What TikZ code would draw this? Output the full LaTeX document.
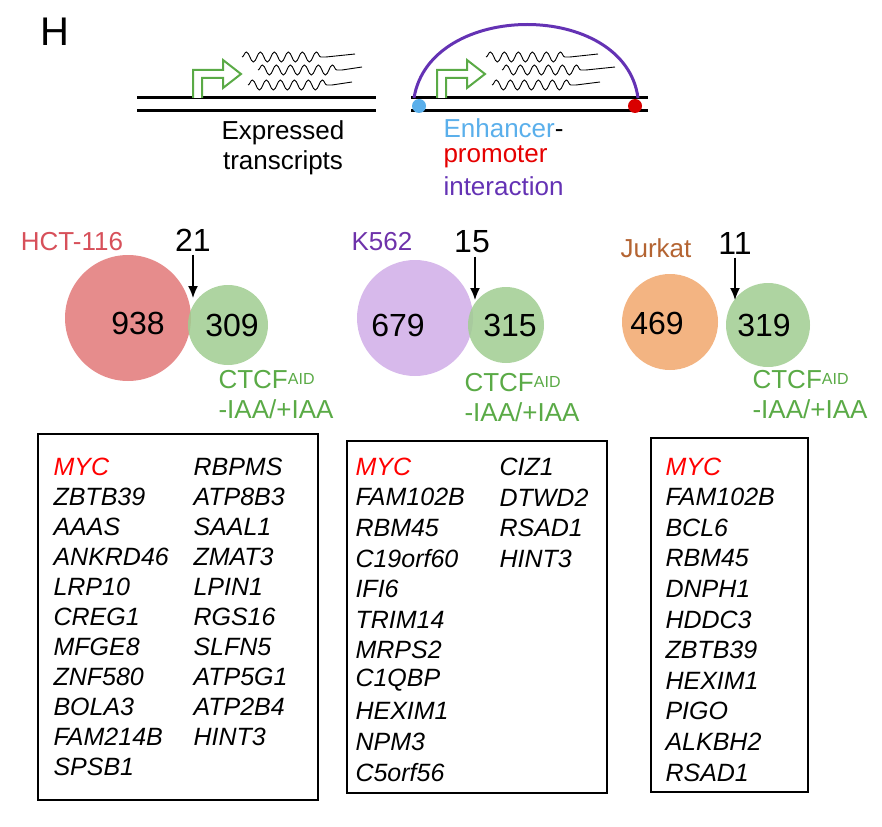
\documentclass[tikz,border=0pt]{standalone}
\usepackage{fontspec}
\setmainfont{Liberation Sans}
\usetikzlibrary{positioning,decorations.pathmorphing,arrows.meta}
\definecolor{venred}{RGB}{230,140,140}
\definecolor{vengreen}{RGB}{160,205,145}
\definecolor{venpurple}{RGB}{215,185,235}
\definecolor{venorange}{RGB}{243,180,130}
\definecolor{labgreen}{RGB}{90,170,70}
\definecolor{labpurple}{RGB}{110,50,170}
\definecolor{arcpurple}{RGB}{100,50,180}
\definecolor{labbrown}{RGB}{180,100,50}
\definecolor{labred}{RGB}{215,80,90}
\definecolor{enhblue}{RGB}{90,175,235}
\tikzset{
 dna/.style={line width=3pt},
 wave/.style={line width=.9pt,decorate,decoration={snake,segment length=14pt,amplitude=5pt}},
 num/.style={font=\fontsize{32}{32}\selectfont},
 cell/.style={font=\fontsize{26}{26}\selectfont},
 cond/.style={text=labgreen,align=left,font=\fontsize{26}{30}\selectfont},
 gene/.style={anchor=west,font=\fontsize{25}{25}\selectfont\itshape},
 genebox/.style={draw,line width=2.2pt},
 pointer/.style={-{Latex[length=12pt,width=10pt]},line width=1.5pt},
 pics/promoter/.style={code={
   \draw[labgreen,line width=2pt,fill=white,line join=miter]
    (0,0)--(0,-28)--(30,-28)--(30,-38)--(48,-24)--(30,-10)--(30,-20)--(9,-20)--(9,0);
 }}
}
\begin{document}
\begin{tikzpicture}[x=1pt,y=-1pt]
 \useasboundingbox (0,0) rectangle (882,826);
 \node[font=\fontsize{40}{40}\selectfont] (panel) at (55,32) {H};
 % left scheme
 \draw[dna] (137,98)--(376,98) (137,111)--(376,111);
 \pic at (193,98) {promoter};
 \foreach \Y/\A/\B in {57/242/355,70/258/362,85/248/352}
  {\draw[wave] (\A,\Y)--(\A+84,\Y); \draw[line width=.9pt] (\A+84,\Y)--(\B,\Y-3);}
 \node[align=center,font=\fontsize{26}{30}\selectfont] (expr) at (283,148) {Expressed\\transcripts};
 % right scheme
 \draw[dna] (411,98)--(648,98) (411,111)--(648,111);
 \pic at (437,98) {promoter};
 \foreach \Y/\A/\B in {57/486/598,70/502/615,85/492/600}
  {\draw[wave] (\A,\Y)--(\A+84,\Y); \draw[line width=.9pt] (\A+84,\Y)--(\B,\Y-3);}
 \draw[arcpurple,line width=3pt] (414,98) .. controls (430,0) and (625,0) .. (638,98);
 \fill[enhblue] (419,106) circle (7);
 \fill[red!85!black] (635,106) circle (7);
 \node[anchor=west,font=\fontsize{26}{26}\selectfont] (enh) at (440,128) {\textcolor{enhblue}{Enhancer}-};
 \node[anchor=west,font=\fontsize{26}{26}\selectfont,text=red!90!black] (prom) at (440,157) {promoter};
 \node[anchor=west,font=\fontsize{26}{26}\selectfont,text=arcpurple] (inter) at (440,186) {interaction};
 % venn diagrams
 \fill[venred] (128,318) circle (63);
 \fill[vengreen,opacity=.85] (228,325) circle (40);
 \fill[venpurple] (415,318) circle (58);
 \fill[vengreen,opacity=.85] (506,325) circle (38);
 \fill[venorange] (670,322) circle (48);
 \fill[vengreen,opacity=.85] (768,325) circle (42);
 \node[num] (n938) at (138,323) {938};
 \node[num] (n309) at (232,325) {309};
 \node[num] (n679) at (398,325) {679};
 \node[num] (n315) at (510,325) {315};
 \node[num] (n469) at (657,323) {469};
 \node[num] (n319) at (764,325) {319};
 \node[cell,text=labred] (hct) at (72,242) {HCT-116};
 \node[cell,text=labpurple] (k562) at (382,242) {K562};
 \node[cell,text=labbrown] (jurkat) at (656,248) {Jurkat};
 \node[num] (o21) at (193,240) {21};
 \node[num] (o15) at (472,242) {15};
 \node[num] (o11) at (735,243) {11};
 \coordinate (x21) at (193,298);
 \coordinate (x15) at (475,300);
 \coordinate (x11) at (735,300);
 \draw[pointer] (o21.south) -- (x21);
 \draw[pointer] (o15.south -| x15) -- (x15);
 \draw[pointer] (o11.south) -- (x11);
 \foreach \X/\Y [count=\i] in {276/395,522/398,810/395}
  \node[cond] (cond\i) at (\X,\Y) {CTCF\raisebox{4pt}{\fontsize{16}{16}\selectfont AID}\\-IAA/+IAA};
 % gene lists
 \draw[genebox] (38,434) rectangle (318,800);
 \draw[genebox] (347,441) rectangle (607,793);
 \draw[genebox] (651,438) rectangle (808,792);
 \foreach \G [count=\i from 0] in {ZBTB39,AAAS,ANKRD46,LRP10,CREG1,MFGE8,ZNF580,BOLA3,FAM214B,SPSB1}
  \node[gene] (ga\i) at (50,497+\i*30) {\G};
 \foreach \G [count=\i from 0] in {RBPMS,ATP8B3,SAAL1,ZMAT3,LPIN1,RGS16,SLFN5,ATP5G1,ATP2B4,HINT3}
  \node[gene] (gb\i) at (190,467+\i*30) {\G};
 \foreach \G [count=\i from 0] in {FAM102B,RBM45,C19orf60,IFI6,TRIM14,MRPS2,C1QBP,HEXIM1,NPM3,C5orf56}
  \node[gene] (gc\i) at (352,497+\i*30.6) {\G};
 \foreach \G [count=\i from 0] in {CIZ1,DTWD2,RSAD1,HINT3}
  \node[gene] (gd\i) at (496,467+\i*30.6) {\G};
 \foreach \G [count=\i from 0] in {FAM102B,BCL6,RBM45,DNPH1,HDDC3,ZBTB39,HEXIM1,PIGO,ALKBH2,RSAD1}
  \node[gene] (ge\i) at (662,497+\i*30.6) {\G};
 \node[gene,text=red] (myca) at (50,467) {MYC};
 \node[gene,text=red] (mycb) at (352,467) {MYC};
 \node[gene,text=red] (mycc) at (662,467) {MYC};
\end{tikzpicture}
\end{document}
